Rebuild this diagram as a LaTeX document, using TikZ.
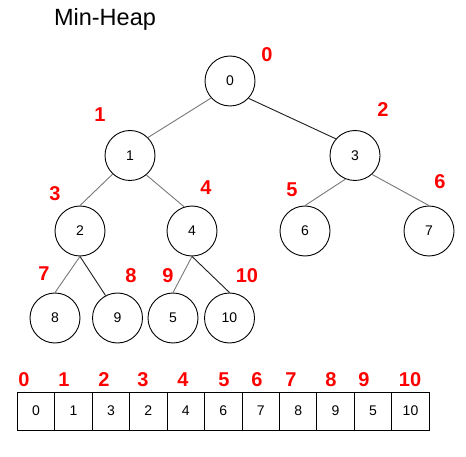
\documentclass[tikz,border=0pt]{standalone}
\usepackage{fontspec}
\setmainfont{Liberation Sans}
\definecolor{idxred}{RGB}{255,0,0}
\definecolor{lightedge}{RGB}{120,120,120}
\definecolor{darkedge}{RGB}{30,30,30}
\begin{document}
\begin{tikzpicture}[x=1pt,y=-1pt,
  hnode/.style={circle,draw=black,line width=0.9pt,minimum size=50pt,inner sep=0pt,font=\fontsize{14}{16}\selectfont},
  idx/.style={text=idxred,font=\fontsize{20}{22}\selectfont\bfseries,inner sep=0pt},
  cell/.style={rectangle,draw=black,line width=0.9pt,minimum width=37.45pt,minimum height=38pt,inner sep=0pt,font=\fontsize{14}{16}\selectfont},
  ledge/.style={draw=lightedge,line width=0.9pt},
  dedge/.style={draw=darkedge,line width=0.9pt}]
\useasboundingbox[fill=white] (0,0) rectangle (466,457);
\node[font=\fontsize{23.5}{26}\selectfont,inner sep=0pt] (title) at (105,19) {Min-Heap};
% heap nodes
\node[hnode] (n0) at (230,81) {0};
\node[hnode] (n1) at (130,155.5) {1};
\node[hnode] (n3) at (355,155.5) {3};
\node[hnode] (n2) at (80,231) {2};
\node[hnode] (n4) at (192,231) {4};
\node[hnode] (n6) at (305,231) {6};
\node[hnode] (n7) at (429,231) {7};
\node[hnode] (n8) at (55,318) {8};
\node[hnode] (n9) at (117.5,318) {9};
\node[hnode] (n5) at (173,318) {5};
\node[hnode] (n10) at (229.5,318) {10};
% edges
\draw[ledge] (n0.222) -- (n1.45);
\draw[dedge] (n0.317) -- (n3.139);
\draw[ledge] (n1.227) -- (n2.north);
\draw[ledge] (n1.310) -- (n4.108);
\draw[ledge] (n3.248) -- (n6.north);
\draw[ledge] (n3.312) -- (n7.north);
\draw[ledge] (n2.south) -- (n8.north);
\draw[dedge] (n2.south) -- (n9.118);
\draw[ledge] (n4.south) -- (n5.north);
\draw[dedge] (n4.south) -- (n10.north);
% tree index labels
\node[idx] (t0) at (267,55) {0};
\node[idx] (t1) at (100,115) {1};
\node[idx] (t2) at (383,110) {2};
\node[idx] (t3) at (55,194) {3};
\node[idx] (t4) at (206,188) {4};
\node[idx] (t5) at (292,190) {5};
\node[idx] (t6) at (440,182) {6};
\node[idx] (t7) at (44,274) {7};
\node[idx] (t8) at (131,276) {8};
\node[idx] (t9) at (168,276) {9};
\node[idx] (t10) at (247,276) {10};
% array cells
\foreach \v [count=\i from 0] in {0,1,3,2,4,6,7,8,9,5,10} {
  \node[cell] (c\i) at ({17.3+37.45*(\i+0.5)},411) {\v};
}
% array index labels
\foreach \x [count=\i from 0] in {24,64,104,143,183,224,257,291,331,364,410} {
  \node[idx] (a\i) at (\x,380) {\i};
}
\end{tikzpicture}
\end{document}
